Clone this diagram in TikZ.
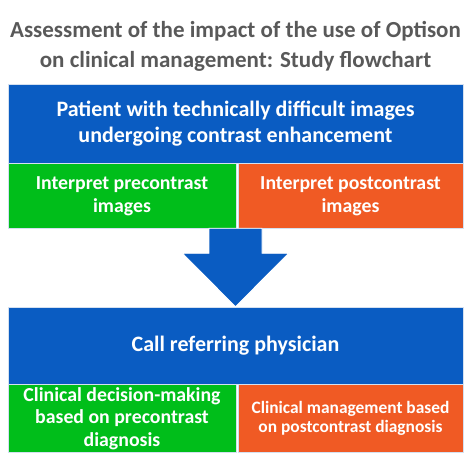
\documentclass[tikz,border=0pt]{standalone}
\usepackage{fontspec}
\setmainfont{Carlito}
\usetikzlibrary{positioning,calc}
\definecolor{cB}{HTML}{0A5CC2}
\definecolor{cG}{HTML}{00BE1A}
\definecolor{cO}{HTML}{F05A24}
\definecolor{cT}{HTML}{595959}
\definecolor{cE}{HTML}{D4E0F0}
\tikzset{
  heading/.style={align=center,text=cT,font=\bfseries\fontsize{23}{30}\selectfont},
  bluebox/.style={rectangle,draw=cE,line width=.6pt,fill=cB,text=white,align=center,
              inner sep=0pt,minimum width=455pt,font=\bfseries\fontsize{22}{25.5}\selectfont},
  halfbox/.style={rectangle,draw=cE,line width=.6pt,text=white,align=center,
              inner sep=0pt,font=\bfseries\fontsize{19.8}{22.5}\selectfont},
  blockarrow/.style={fill=cB,draw=white,line width=.8pt,line join=miter},
}
\begin{document}
\begin{tikzpicture}[x=1pt,y=-1pt]
  \useasboundingbox (0,0) rectangle (474,474);
  \node[heading] (title) at (235.5,46) {Assessment of the impact of the use of Optison\\on clinical management: Study flowchart};

  \node[bluebox,minimum height=79pt] (patient) at (235.5,123.5) {Patient with technically difficult images\\undergoing contrast enhancement};
  \node[halfbox,fill=cG,minimum width=228pt,minimum height=65pt,anchor=north west] (pre) at (patient.south west) {Interpret precontrast\\images};
  \node[halfbox,fill=cO,minimum width=225pt,minimum height=65pt,anchor=north east] (post) at (patient.south east) {Interpret postcontrast\\images};

  \node[bluebox,minimum height=77pt] (call) at (235.5,345.5) {Call referring physician};
  \node[halfbox,fill=cG,minimum width=228pt,minimum height=68pt,anchor=north west] (decide) at (call.south west) {Clinical decision-making\\based on precontrast\\diagnosis};
  \node[halfbox,fill=cO,minimum width=225pt,minimum height=68pt,anchor=north east,
        font=\bfseries\fontsize{17.4}{18.5}\selectfont] (manage) at (call.south east) {Clinical management based\\on postcontrast diagnosis};

  % big down arrow from the first block to the second
  \coordinate (top) at ($(patient.south)+(0,65)$);
  \coordinate (tip) at (call.north);
  \draw[blockarrow] ($(top)+(-26.5,0)$) -- ($(top)+(26.5,0)$) -- ($(top)+(26.5,25)$)
    -- ($(top)+(53,25)$) -- (tip) -- ($(top)+(-53,25)$) -- ($(top)+(-26.5,25)$) -- cycle;
\end{tikzpicture}
\end{document}
